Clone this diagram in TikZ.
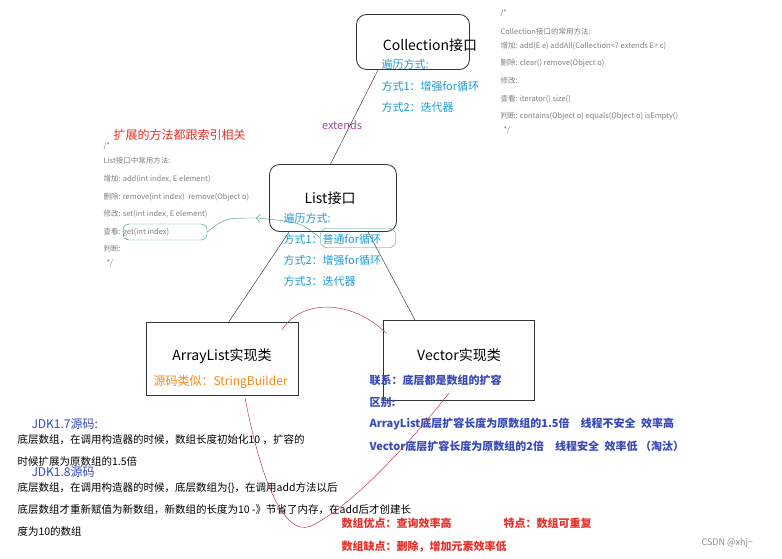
\documentclass[tikz,border=0pt]{standalone}
\usepackage{fontspec}
\setmainfont{Noto Sans CJK SC}
\usetikzlibrary{arrows.meta}
\definecolor{cyanb}{HTML}{1E9BD7}
\definecolor{blueb}{HTML}{3748B8}
\definecolor{redb}{HTML}{E8302A}
\definecolor{orangeb}{HTML}{F08A1C}
\definecolor{greenb}{HTML}{3A9A70}
\definecolor{purp}{HTML}{A04A9C}
\begin{document}
\begin{tikzpicture}[x=1pt,y=-1pt,
  box/.style={draw=black!80,line width=0.8pt},
  cls/.style={font=\fontsize{14}{16}\selectfont},
  tc/.style={anchor=west,text=cyanb,font=\fontsize{11}{13}\selectfont},
  comtext/.style={anchor=west,text=black!50,font=\fontsize{7.5}{9}\selectfont\itshape},
  tb/.style={anchor=west,text=blueb,font=\fontsize{11}{13}\selectfont\bfseries},
  tr/.style={anchor=west,text=redb,font=\fontsize{11}{13}\selectfont\bfseries},
  tk/.style={anchor=west,text=black,font=\fontsize{10.5}{13}\selectfont},
  tj/.style={anchor=west,text=blueb,font=\fontsize{12}{14}\selectfont}]
\useasboundingbox[fill=white] (0,0) rectangle (782,559);
% boxes
\node[box, rounded corners=10pt, minimum width=113pt, minimum height=55pt] (col) at (413,42) {};
\node[cls] (colt) at (430,45) {Collection接口};
\node[box, rounded corners=10pt, minimum width=127pt, minimum height=67pt] (lst) at (333,198) {};
\node[cls] (lstt) at (330,198) {List接口};
\node[box, minimum width=152pt, minimum height=73pt] (arr) at (222,359) {};
\node[cls] (arrt) at (222,356) {ArrayList实现类};
\node[box, minimum width=151pt, minimum height=80pt] (vec) at (459,360) {};
\node[cls] (vect) at (459,355) {Vector实现类};
% connectors
\coordinate (c1) at (378,70);
\coordinate (c2) at (330,165);
\draw[black!85] (c1) -- (c2);
\coordinate (l1) at (289,232);
\coordinate (a1) at (228,323);
\coordinate (l2) at (368,232);
\coordinate (v1) at (415,320);
\draw[black!85] (l1) -- (a1);
\draw[black!85] (l2) -- (v1);
\node[text=purp,font=\fontsize{11}{13}\selectfont] (ext) at (342,125) {extends};
% collection traversal
\node[tc] (ca) at (378,64) {遍历方式:};
\node[tc] (cb) at (378,86) {方式1：增强for循环};
\node[tc] (cc) at (378,107) {方式2：迭代器};
% list traversal
\node[tc] (la) at (280,218) {遍历方式:};
\node[tc] (lb) at (280,239) {方式1：普通for循环};
\node[tc] (lc) at (280,260) {方式2：增强for循环};
\node[tc] (ld) at (280,281) {方式3：迭代器};
% collection comments
\node[comtext] at (497,13) {/*};
\node[comtext] at (497,32) {Collection接口的常用方法:};
\node[comtext] at (497,46) {增加: add(E e) addAll(Collection<? extends E> c)};
\node[comtext] at (497,63) {删除: clear() remove(Object o)};
\node[comtext] at (497,81) {修改:};
\node[comtext] at (497,99) {查看: iterator() size()};
\node[comtext] at (497,116) {判断: contains(Object o)  equals(Object o) isEmpty()};
\node[comtext] at (500,130) {*/};
% list comments
\node[text=redb,anchor=west,font=\fontsize{12}{14}\selectfont] (rtl) at (110,135) {扩展的方法都跟索引相关};
\node[comtext] at (100,146) {/*};
\node[comtext] at (100,161) {List接口中常用方法:};
\node[comtext] at (100,179) {增加: add(int index, E element)};
\node[comtext] at (100,197) {删除: remove(int index)\enspace remove(Object o)};
\node[comtext] at (100,214) {修改: set(int index, E element)};
\node[comtext] at (100,232) {查看: get(int index)};
\node[comtext] at (100,249) {判断:};
\node[comtext] at (103,263) {*/};
% green marks
\node[draw=greenb, rounded corners=6pt, minimum width=75pt, minimum height=19pt] (g1) at (358,238) {};
\node[draw=greenb, rounded corners=6pt, minimum width=84pt, minimum height=16pt] (g2) at (165,232) {};
\coordinate (ga) at (256,218);
\draw[greenb,-{Straight Barb[length=4pt]}] (g1.west) .. controls (300,222) .. (ga);
\draw[greenb] (ga) .. controls (225,218) .. (g2.east);
% orange
\node[text=orangeb,anchor=west,font=\fontsize{12}{14}\selectfont] (src) at (150,382) {源码类似：StringBuilder};
% vector notes
\node[tb] at (366,380) {联系：底层都是数组的扩容};
\node[tb] at (366,402) {区别:};
\node[tb] at (366,424) {ArrayList底层扩容长度为原数组的1.5倍\quad 线程不安全\enspace 效率高};
\node[tb] at (366,446) {Vector底层扩容长度为原数组的2倍\quad 线程安全\enspace 效率低 （淘汰）};
% jdk
\node[tj] at (28,424) {JDK1.7源码:};
\node[tk] at (14,440) {底层数组，在调用构造器的时候，数组长度初始化10 ，扩容的};
\node[tk] at (14,461) {时候扩展为原数组的1.5倍};
\node[tj] at (28,472) {JDK1.8源码};
\node[tk] at (14,488) {底层数组，在调用构造器的时候，底层数组为\{\}，在调用add方法以后};
\node[tk] at (14,510) {底层数组才重新赋值为新数组，新数组的长度为10 -》节省了内存，在add后才创建长};
\node[tk] at (14,531) {度为10的数组};
% red notes
\node[tr] at (338,523) {数组优点：查询效率高};
\node[tr] at (500,523) {特点：数组可重复};
\node[tr] at (338,547) {数组缺点：删除，增加元素效率低};
\node[text=black!45,anchor=west,font=\fontsize{9}{11}\selectfont] at (698,543) {CSDN @xhj\textasciitilde};
% red curve
\draw[purp!70!red,line width=0.5pt] (245,398) .. controls (265,500) and (290,540) .. (315,524)
  .. controls (360,500) and (420,430) .. (449,393);
\draw[purp!70!red,line width=0.5pt] (282,330) .. controls (300,300) and (350,298) .. (386,333);
\end{tikzpicture}
\end{document}
